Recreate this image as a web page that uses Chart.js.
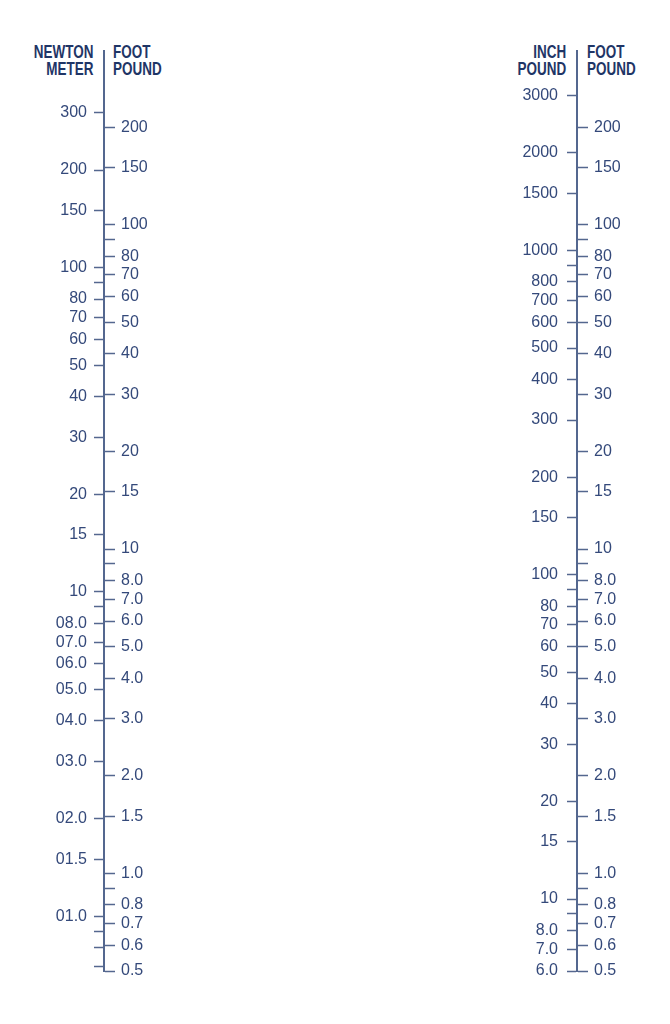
<!DOCTYPE html>
<html lang="en">
<head>
    <meta charset="UTF-8">
    <title>Torque Conversion Scale</title>
    <script src="https://cdn.jsdelivr.net/npm/chart.js"></script>
    <style>
        body { margin: 0; background: #fff; width: 670px; height: 1024px; position: relative; overflow: hidden; }
        .scale { position: absolute; top: 0; width: 141px; height: 1024px; }
        .head {
            position: absolute; top: 44.2px;
            font-family: "Liberation Sans", Arial, sans-serif;
            font-weight: bold; font-size: 17.5px; line-height: 16.7px;
            color: #1f3566;
            transform: scaleX(0.77);
        }
        .head.l { text-align: right; transform-origin: right top; }
        .head.r { text-align: left; transform-origin: left top; }
    </style>
</head>
<body>

    <div class="head l" style="right: 577px;">NEWTON<br>METER</div>
    <div class="head r" style="left: 113px;">FOOT<br>POUND</div>
    <div class="head l" style="right: 104px;">INCH<br>POUND</div>
    <div class="head r" style="left: 587px;">FOOT<br>POUND</div>

    <div class="scale" style="left: 34px;"><canvas id="leftScale"></canvas></div>
    <div class="scale" style="left: 507px;"><canvas id="rightScale"></canvas></div>

    <script>
        // conversion factors, foot pound is the base unit of both scales
        const NM_PER_FTLB = 1.355818;
        const INLB_PER_FTLB = 12;
        const FTLB_MIN = 0.5;
        const FTLB_MAX = 343.4;

        const ftLbTicks = [200, 150, 100, 90, 80, 70, 60, 50, 40, 30, 20, 15, 10, 9, 8, 7, 6, 5, 4, 3, 2, 1.5, 1, 0.9, 0.8, 0.7, 0.6, 0.5];
        const ftLbLabels = ["200", "150", "100", "", "80", "70", "60", "50", "40", "30", "20", "15", "10", "", "8.0", "7.0", "6.0", "5.0", "4.0", "3.0", "2.0", "1.5", "1.0", "", "0.8", "0.7", "0.6", "0.5"];

        const nmTicks = [300, 200, 150, 100, 90, 80, 70, 60, 50, 40, 30, 20, 15, 10, 9, 8, 7, 6, 5, 4, 3, 2, 1.5, 1, 0.9, 0.8, 0.7];
        const nmLabels = ["300", "200", "150", "100", "", "80", "70", "60", "50", "40", "30", "20", "15", "10", "", "08.0", "07.0", "06.0", "05.0", "04.0", "03.0", "02.0", "01.5", "01.0", "", "", ""];

        const inLbTicks = [3000, 2000, 1500, 1000, 900, 800, 700, 600, 500, 400, 300, 200, 150, 100, 90, 80, 70, 60, 50, 40, 30, 20, 15, 10, 9, 8, 7, 6];
        const inLbLabels = ["3000", "2000", "1500", "1000", "", "800", "700", "600", "500", "400", "300", "200", "150", "100", "", "80", "70", "60", "50", "40", "30", "20", "15", "10", "", "8.0", "7.0", "6.0"];

        const lineColor = "#54678f";
        const textColor = "#34497a";

        function logAxis(position, ticks, labels, factor, padding) {
            const names = new Map(ticks.map((v, i) => [v, labels[i]]));
            return {
                type: "logarithmic",
                position: position,
                min: FTLB_MIN * factor,
                max: FTLB_MAX * factor,
                bounds: "data",
                afterBuildTicks: function (scale) {
                    scale.ticks = ticks.map(v => ({ value: v }));
                },
                afterFit: function (scale) {
                    scale.width = 70;
                },
                grid: {
                    drawOnChartArea: false,
                    drawTicks: true,
                    tickLength: 10,
                    tickWidth: 1.5,
                    color: lineColor
                },
                border: {
                    display: position === "left",
                    color: lineColor,
                    width: 2
                },
                ticks: {
                    autoSkip: false,
                    padding: padding,
                    color: textColor,
                    font: { family: "'Liberation Sans', Arial, sans-serif", size: 16 },
                    callback: function (value) {
                        return names.has(value) ? names.get(value) : "";
                    }
                }
            };
        }

        function renderScale(id, leftTicks, leftLabels, leftFactor, leftPad) {
            const ctx = document.getElementById(id).getContext("2d");
            return new Chart(ctx, {
                type: "line",
                data: { datasets: [] },
                options: {
                    responsive: true,
                    maintainAspectRatio: false,
                    animation: false,
                    layout: { padding: { top: 51, bottom: 53, left: 0, right: 0 } },
                    plugins: { legend: { display: false }, tooltip: { enabled: false } },
                    scales: {
                        x: { type: "linear", display: false, min: 0, max: 1 },
                        yLeft: logAxis("left", leftTicks, leftLabels, leftFactor, leftPad),
                        yRight: logAxis("right", ftLbTicks, ftLbLabels, 1, 6)
                    }
                }
            });
        }

        renderScale("leftScale", nmTicks, nmLabels, NM_PER_FTLB, 7);
        renderScale("rightScale", inLbTicks, inLbLabels, INLB_PER_FTLB, 9);
    </script>

</body>
</html>
